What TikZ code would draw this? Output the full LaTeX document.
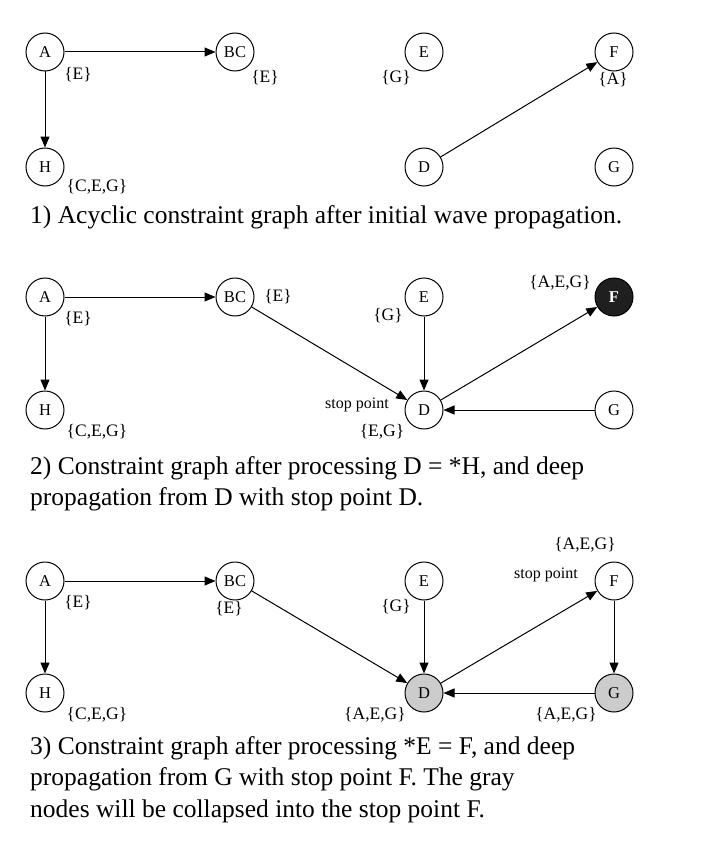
\documentclass[tikz,border=0pt]{standalone}
\usepackage{fontspec}
\setmainfont{Liberation Serif}
\usetikzlibrary{arrows.meta}
\begin{document}
\begin{tikzpicture}[x=1pt,y=-1pt,
 vtx/.style={circle,draw,line width=1pt,minimum size=38pt,inner sep=0pt,font=\fontsize{16.5}{16}\selectfont},
 lab/.style={font=\fontsize{17.5}{17}\selectfont,inner sep=0pt},
 small/.style={font=\fontsize{16}{16}\selectfont,inner sep=0pt},
 captxt/.style={font=\fontsize{25.5}{31.5}\selectfont,anchor=north west,align=left,inner sep=0pt},
 arr/.style={-{Triangle[length=11pt,width=9pt]},line width=1pt}]
\useasboundingbox (0,0) rectangle (708,848);
% panel 1
\node[vtx] (a1) at (45,52) {A};
\node[vtx] (bc1) at (235,52) {BC};
\node[vtx] (e1) at (424,52) {E};
\node[vtx] (f1) at (614,52) {F};
\node[vtx] (h1) at (45,167) {H};
\node[vtx] (d1) at (424,167) {D};
\node[vtx] (g1) at (614,167) {G};
\node[lab] (l1a) at (78,75) {\{E\}};
\node[lab] (l1b) at (265,78) {\{E\}};
\node[lab] (l1c) at (396,78) {\{G\}};
\node[lab] (l1d) at (613,80) {\{A\}};
\node[lab] (l1e) at (97,187) {\{C,E,G\}};
\draw[arr] (a1) -- (bc1);
\draw[arr] (a1) -- (h1);
\draw[arr] (d1) -- (f1);
\node[captxt] (c1) at (30,205) {1) Acyclic constraint graph after initial wave propagation.};
% panel 2
\node[vtx] (a2) at (45,297) {A};
\node[vtx] (bc2) at (235,297) {BC};
\node[vtx] (e2) at (424,297) {E};
\node[vtx,fill=black!88,text=white,font=\fontsize{16.5}{16}\selectfont\bfseries] (f2) at (614,297) {F};
\node[vtx] (h2) at (45,410) {H};
\node[vtx] (d2) at (424,410) {D};
\node[vtx] (g2) at (614,410) {G};
\node[lab] (l2a) at (78,319) {\{E\}};
\node[lab] (l2b) at (278,297) {\{E\}};
\node[lab] (l2c) at (388,316) {\{G\}};
\node[lab] (l2d) at (560,283) {\{A,E,G\}};
\node[small] (l2s) at (357,405) {stop point};
\node[lab] (l2e) at (382,432) {\{E,G\}};
\node[lab] (l2f) at (97,432) {\{C,E,G\}};
\draw[arr] (a2) -- (bc2);
\draw[arr] (a2) -- (h2);
\draw[arr] (bc2) -- (d2);
\draw[arr] (e2) -- (d2);
\draw[arr] (d2) -- (f2);
\draw[arr] (g2) -- (d2);
\node[captxt] (c2) at (30,456) {2) Constraint graph after processing D = *H, and deep\\propagation from D with stop point D.};
% panel 3
\node[vtx] (a3) at (45,581) {A};
\node[vtx] (bc3) at (235,581) {BC};
\node[vtx] (e3) at (424,581) {E};
\node[vtx] (f3) at (614,581) {F};
\node[vtx] (h3) at (45,693) {H};
\node[vtx,fill=black!20] (d3) at (424,693) {D};
\node[vtx,fill=black!20] (g3) at (614,693) {G};
\node[lab] (l3a) at (78,603) {\{E\}};
\node[lab] (l3b) at (229,609) {\{E\}};
\node[lab] (l3c) at (396,607) {\{G\}};
\node[lab] (l3d) at (585,545) {\{A,E,G\}};
\node[small] (l3s) at (546,575) {stop point};
\node[lab] (l3e) at (375,715) {\{A,E,G\}};
\node[lab] (l3f) at (566,715) {\{A,E,G\}};
\node[lab] (l3g) at (97,715) {\{C,E,G\}};
\draw[arr] (a3) -- (bc3);
\draw[arr] (a3) -- (h3);
\draw[arr] (bc3) -- (d3);
\draw[arr] (e3) -- (d3);
\draw[arr] (d3) -- (f3);
\draw[arr] (f3) -- (g3);
\draw[arr] (g3) -- (d3);
\node[captxt] (c3) at (30,736) {3) Constraint graph after processing *E = F, and deep\\propagation from G with stop point F. The gray\\nodes will be collapsed into the stop point F.};
\end{tikzpicture}
\end{document}
